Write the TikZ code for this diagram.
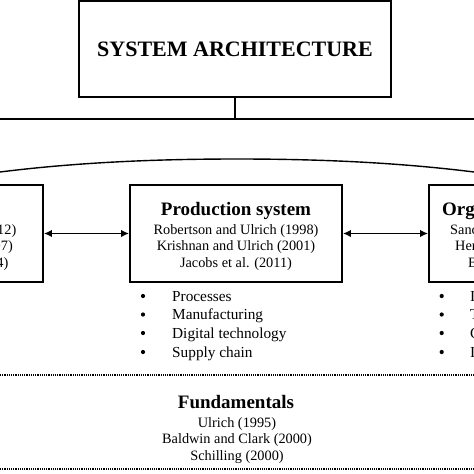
\documentclass[tikz,border=0pt]{standalone}
\usepackage{fontspec}
\setmainfont{Liberation Serif}
\usetikzlibrary{arrows.meta}
\begin{document}
\begin{tikzpicture}[x=1pt,y=-1pt,
  box/.style={draw, line width=1.9pt, inner sep=0pt},
  ttl/.style={font=\bfseries\fontsize{19}{22}\selectfont, anchor=base, inner sep=0pt},
  cit/.style={font=\fontsize{14.3}{16}\selectfont, anchor=base, inner sep=0pt},
  bul/.style={font=\fontsize{15.3}{18}\selectfont, anchor=base west, inner sep=0pt},
  bdot/.style={circle, fill, inner sep=0pt, minimum size=4.2pt},
  link/.style={line width=1.6pt, {Latex[length=8pt,width=7.5pt]}-{Latex[length=8pt,width=7.5pt]}},
  thin/.style={line width=1.4pt},
  dotline/.style={line width=1.4pt, dash pattern=on 1.1pt off 1.1pt}
]
\useasboundingbox (0,0) rectangle (474,474);
\clip (0,0) rectangle (474,474);

% top box
\node[box, minimum width=312pt, minimum height=96pt,
      font=\bfseries\fontsize{22}{26}\selectfont] (top) at (235,49) {SYSTEM ARCHITECTURE};
\coordinate (hl) at (0,119);
\coordinate (hr) at (474,119);
\draw[thin] (hl) -- (hr);
\draw[thin] (top.south) -- (top.south |- hl);

% arc
\coordinate (al) at (0,172);
\coordinate (ap) at (237,159);
\coordinate (ar) at (474,172);
\draw[thin] (al) .. controls (80,162) and (160,159) .. (ap) .. controls (314,159) and (394,162) .. (ar);

% boxes
\node[box, minimum width=93pt, minimum height=97pt] (lbox) at (-3.5,233.5) {};
\node[box, minimum width=212pt, minimum height=97pt] (mbox) at (236,233.5) {};
\node[box, minimum width=111pt, minimum height=97pt] (rbox) at (484.5,233.5) {};
\draw[link] (lbox.east) -- (mbox.west);
\draw[link] (mbox.east) -- (rbox.west);

% left box text (cut off at the page edge)
\node[cit, anchor=base east] (l1) at (16.5,234) {(2012)};
\node[cit, anchor=base east] (l2) at (13,250.5) {(2007)};
\node[cit, anchor=base east] (l3) at (8.5,267) {(2004)};

% middle box text
\node[ttl] (mt) at (236,215) {Production system};
\node[cit] (m1) at (236,234) {Robertson and Ulrich (1998)};
\node[cit] (m2) at (236,250.5) {Krishnan and Ulrich (2001)};
\node[cit] (m3) at (236,267) {Jacobs et al. (2011)};

% right box text (cut off at the page edge)
\node[ttl, anchor=base west] (rt) at (442,215) {Organization};
\node[cit, anchor=base west] (r1) at (450,234) {Sanchez and Mahoney (1996)};
\node[cit, anchor=base west] (r2) at (455,250.5) {Henderson and Clark (1990)};
\node[cit, anchor=base west] (r3) at (468,267) {Brusoni (2005)};

% middle bullets
\node[bdot] (mb1) at (143,296) {};
\node[bdot] (mb2) at (143,314.5) {};
\node[bdot] (mb3) at (143,333) {};
\node[bdot] (mb4) at (143,352) {};
\node[bul] (mp1) at (172,301) {Processes};
\node[bul] (mp2) at (172,319.5) {Manufacturing};
\node[bul] (mp3) at (172,338) {Digital technology};
\node[bul] (mp4) at (172,357) {Supply chain};

% right bullets (cut off at the page edge)
\node[bdot] (rb1) at (441.7,296) {};
\node[bdot] (rb2) at (441.7,314.5) {};
\node[bdot] (rb3) at (441.7,333) {};
\node[bdot] (rb4) at (441.7,352) {};
\node[bul] (rp1) at (470,301) {Interfaces};
\node[bul] (rp2) at (470,319.5) {Teams};
\node[bul] (rp3) at (470,338) {Coordination};
\node[bul] (rp4) at (470,357) {Information};

% fundamentals
\coordinate (d1l) at (0,375);
\coordinate (d1r) at (474,375);
\coordinate (d2l) at (0,469);
\coordinate (d2r) at (474,469);
\draw[dotline] (d1l) -- (d1r);
\draw[dotline] (d2l) -- (d2r);
\node[ttl] (ft) at (236,408) {Fundamentals};
\node[cit] (f1) at (237,427) {Ulrich (1995)};
\node[cit] (f2) at (237,443.5) {Baldwin and Clark (2000)};
\node[cit] (f3) at (237,460) {Schilling (2000)};
\end{tikzpicture}
\end{document}
